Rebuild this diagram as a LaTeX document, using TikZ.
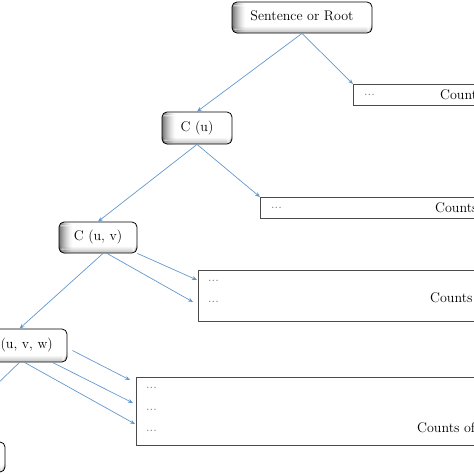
\documentclass[tikz,border=0pt]{standalone}
\usetikzlibrary{arrows.meta,calc}
\definecolor{arrblue}{RGB}{100,152,205}
\definecolor{boxgray}{RGB}{75,75,75}
\definecolor{dotgray}{RGB}{110,110,110}
\begin{document}
\begin{tikzpicture}[x=1pt,y=-1pt,
  cnode/.style={draw=black, line width=0.8pt, rounded corners=5pt, fill=white,
    inner sep=0pt, font=\fontsize{14}{16}\selectfont,
    path picture={
      \foreach \i in {0,...,13}{
        \pgfmathsetmacro{\p}{55*(1-\i/14)^1.6}
        \fill[black!\p!white] ([xshift=\i*1pt]path picture bounding box.south west)
          rectangle ([xshift=\i*1pt+1.05pt]path picture bounding box.north west);
      }
      \foreach \i in {0,...,5}{
        \pgfmathsetmacro{\q}{18*(1-\i/6)}
        \fill[black, opacity=\q/100] ([yshift=\i*1pt]path picture bounding box.south west)
          rectangle ([yshift=\i*1pt+1.05pt]path picture bounding box.south east);
      }
    }},
  cbox/.style={draw=boxgray, line width=1.1pt, fill=white, inner sep=0pt, anchor=north west},
  txt/.style={inner sep=0pt, anchor=west, font=\fontsize{14}{16}\selectfont},
  dotsty/.style={inner sep=0pt, anchor=west, text=dotgray, font=\fontsize{13}{15}\selectfont},
  arr/.style={draw=arrblue, line width=0.7pt, -{Stealth[length=5pt,width=4pt]}}]
\useasboundingbox (0,0) rectangle (474,474);
\clip (0,0) rectangle (474,474);

% rounded nodes
\node[cnode, minimum width=140pt, minimum height=31pt] (root) at (302,17.5) {\raisebox{3pt}{Sentence or Root}};
\node[cnode, minimum width=70pt, minimum height=32pt] (cu) at (197,128) {\raisebox{3pt}{C (u)}};
\node[cnode, minimum width=78pt, minimum height=31pt] (cuv) at (98,237.5) {\raisebox{3pt}{C (u, v)}};
\node[cnode, minimum width=95pt, minimum height=33pt] (cuvw) at (19.5,345.5) {\raisebox{1pt}{C (u, v, w)}};
\node[cnode, minimum width=135pt, minimum height=30pt] (bl) at (-62.5,457) {};

% count boxes
\node[cbox, minimum width=170pt, minimum height=21pt] (b1) at (353,84) {};
\node[cbox, minimum width=265pt, minimum height=21pt] (b2) at (260,197) {};
\node[cbox, minimum width=325pt, minimum height=51pt] (b3) at (198,270) {};
\node[cbox, minimum width=390pt, minimum height=68pt] (b4) at (136,377) {};

% box texts
\node[dotsty] (d1) at (364,95) {...};
\node[txt] (t1) at (440,95) {Counts};
\node[dotsty] (d2) at (271,208) {...};
\node[txt] (t2) at (435,208) {Counts};
\node[dotsty] (d3a) at (208,281) {...};
\node[dotsty] (d3b) at (208,302) {...};
\node[txt] (t3) at (430,298) {Counts};
\node[dotsty] (d4a) at (146,388) {...};
\node[dotsty] (d4b) at (146,410) {...};
\node[dotsty] (d4c) at (146,431) {...};
\node[txt] (t4) at (417,428) {Counts of};

% connectors
\draw[arr] (root.south) -- (cu.north);
\draw[arr] (root.south) -- (b1.north west);
\draw[arr] (cu.south) -- (cuv.north);
\draw[arr] (cu.south) -- (b2.north west);
\draw[arr] ([xshift=5pt]cuv.south) -- (cuvw.north);
\draw[arr] (cuv.south east) -- ([shift={(-1pt,-10pt)}]b3.north west);
\draw[arr] ([xshift=9pt]cuv.south) -- ([shift={(-5pt,-32pt)}]b3.north west);
\draw[arr] ([shift={(5pt,-5pt)}]cuvw.east) -- ([shift={(-6pt,-3pt)}]b4.north west);
\draw[arr] ([xshift=33pt]cuvw.south) -- ([shift={(-3pt,-26pt)}]b4.north west);
\draw[arr] ([xshift=5pt]cuvw.south) -- ([shift={(-1pt,-47pt)}]b4.north west);
\draw[arr] (cuvw.south) -- (bl.north);
\end{tikzpicture}
\end{document}
